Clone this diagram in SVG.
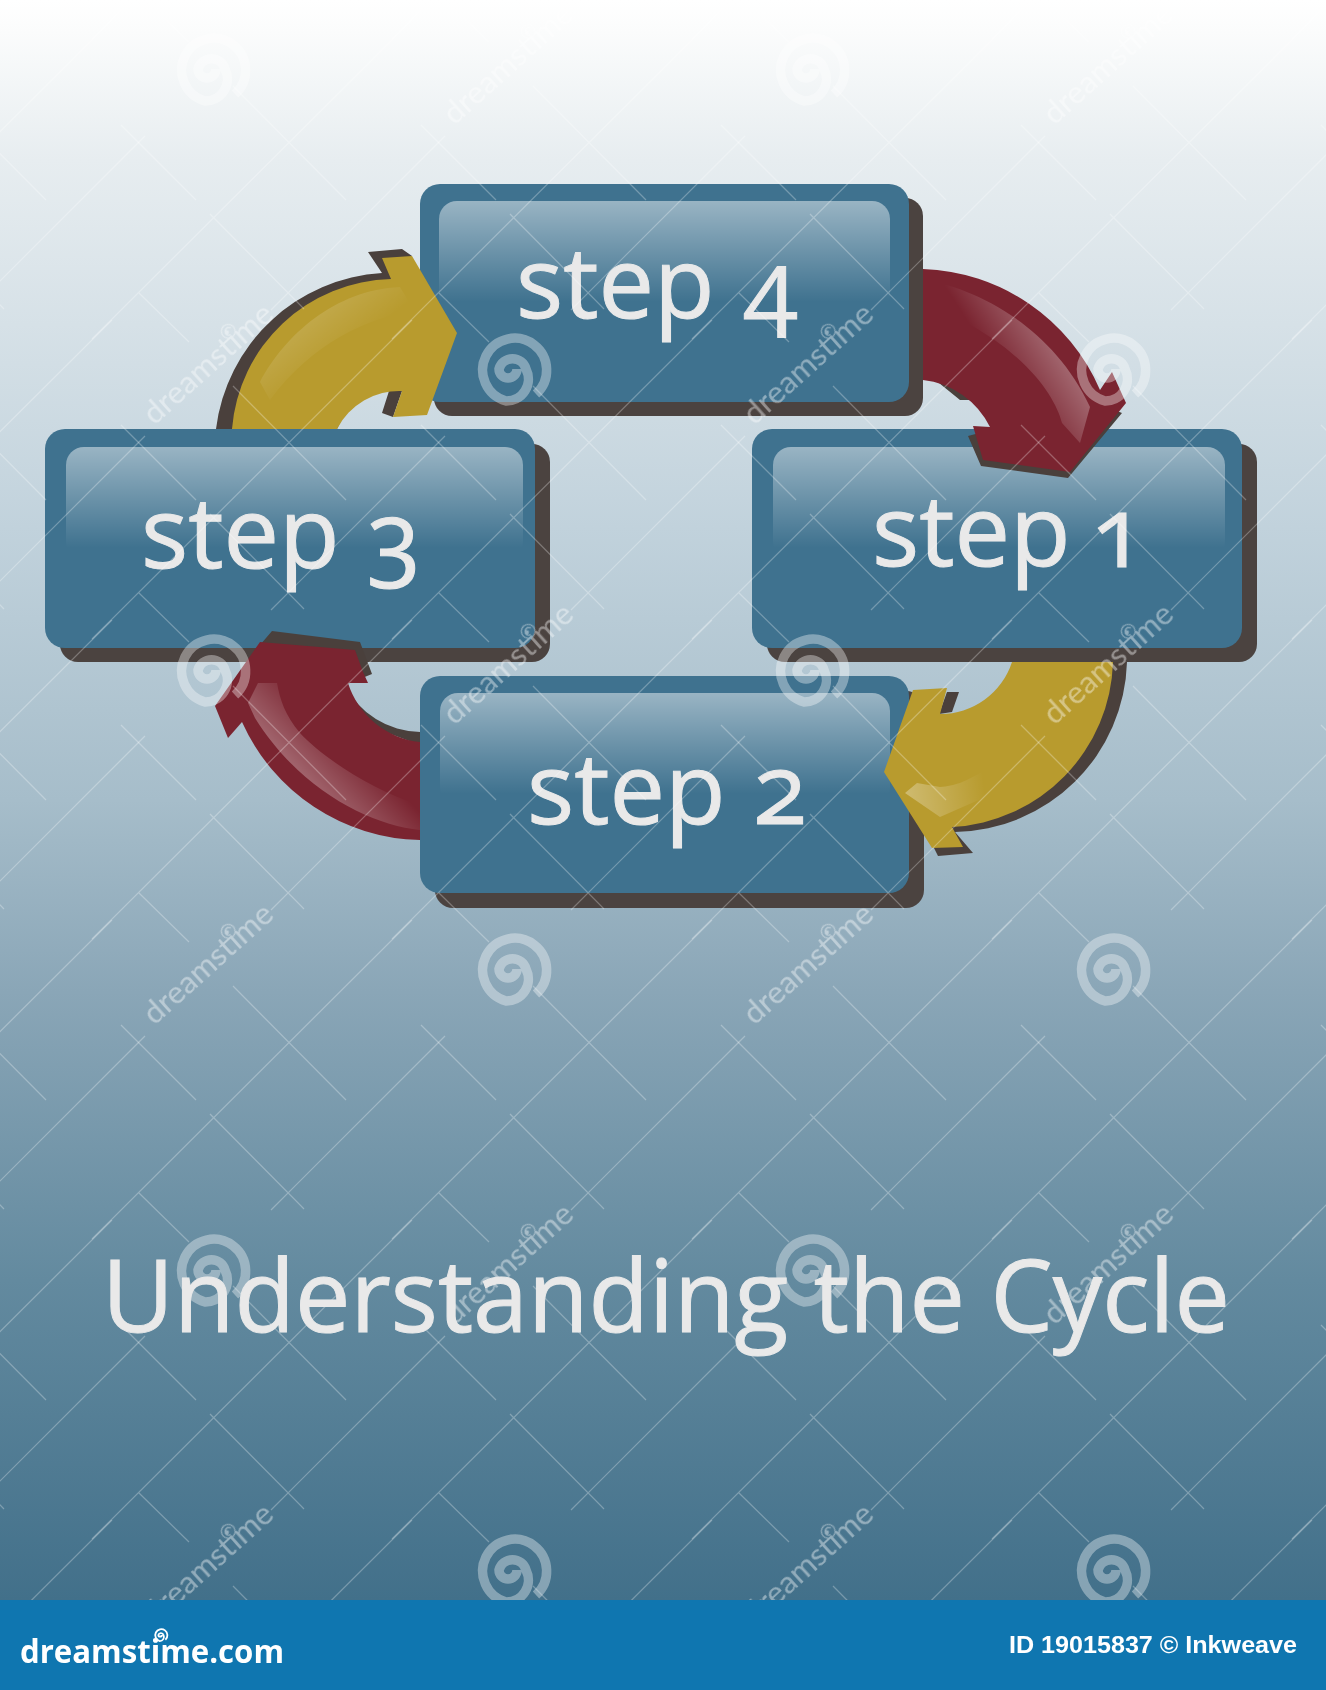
<svg xmlns="http://www.w3.org/2000/svg" width="1326" height="1690" viewBox="0 0 1326 1690">
<style>
.shadow{fill:#4b4340}
.box{fill:#3f728f}
.gloss{fill:url(#gl)}
.lbl{font-family:"Open Sans","Noto Sans",sans-serif;font-size:99px;fill:#e9e9e9;stroke:#e9e9e9;stroke-width:1;font-variant-numeric:oldstyle-nums}
.title{font-family:"Open Sans","Noto Sans",sans-serif;font-size:100px;fill:#e9e9e9;stroke:#e9e9e9;stroke-width:1}
.red{fill:#7a2430}
.gold{fill:#b89b2e}
.dark{fill:#4a403c}
.wm{font-family:"Lato","Open Sans",sans-serif;font-size:30px;fill:#fff}
.wc{font-family:"Open Sans",sans-serif;font-size:20px;fill:#fff}
.sw{fill:none;stroke:#fff;stroke-width:9.5}
</style>
<defs>
<linearGradient id="bg" x1="0" y1="0" x2="0" y2="1600" gradientUnits="userSpaceOnUse">
<stop offset="0" stop-color="#ffffff"/><stop offset="0.02" stop-color="#fbfcfc"/><stop offset="0.1" stop-color="#e7edf0"/><stop offset="0.33" stop-color="#c1d2dc"/><stop offset="0.5" stop-color="#a6bdca"/><stop offset="0.62" stop-color="#8aa6b7"/><stop offset="0.8" stop-color="#638a9f"/><stop offset="1" stop-color="#42708a"/>
</linearGradient>
<linearGradient id="gl" x1="0" y1="0" x2="0" y2="1">
<stop offset="0" stop-color="#fff" stop-opacity="0.47"/><stop offset="0.9" stop-color="#fff" stop-opacity="0"/>
</linearGradient>
<linearGradient id="hTR" gradientUnits="userSpaceOnUse" x1="1075" y1="335" x2="1005" y2="380"><stop offset="0" stop-color="#fff" stop-opacity="0.42"/><stop offset="1" stop-color="#fff" stop-opacity="0"/></linearGradient>
<linearGradient id="hBL" gradientUnits="userSpaceOnUse" x1="265" y1="775" x2="330" y2="715"><stop offset="0" stop-color="#fff" stop-opacity="0.42"/><stop offset="1" stop-color="#fff" stop-opacity="0"/></linearGradient>
<linearGradient id="hTL" gradientUnits="userSpaceOnUse" x1="300" y1="315" x2="335" y2="360"><stop offset="0" stop-color="#fff" stop-opacity="0.16"/><stop offset="1" stop-color="#fff" stop-opacity="0"/></linearGradient>
<linearGradient id="hBR" gradientUnits="userSpaceOnUse" x1="905" y1="800" x2="985" y2="790"><stop offset="0" stop-color="#fff" stop-opacity="0.32"/><stop offset="1" stop-color="#fff" stop-opacity="0"/></linearGradient>
<path id="x" fill="none" stroke="#fff" stroke-opacity="0.28" stroke-width="1.2" d="M92,319L412,0M271,290L445,116M121,105L196,180M210,194L304,289M233,66L346,180M139,273L189,322"/>
<pattern id="lines" patternUnits="userSpaceOnUse" x="0" y="20" width="300" height="300">
<use href="#x"/><use href="#x" x="-300"/><use href="#x" y="-300"/><use href="#x" x="-300" y="-300"/>
</pattern>
<path id="swirl" class="sw" d="M23,25A32,32 0 1 0 -7,32A22,22 0 0 0 13,0A14,14 0 0 0 -14,0A9,9 0 0 0 4,0"/>
<g id="mark" transform="rotate(-42)">
<text class="wm" x="6" y="0" textLength="163" lengthAdjust="spacingAndGlyphs">dreamstime</text>
<text class="wc" x="124" y="-14" transform="rotate(42 124 -21)" text-anchor="middle">©</text>
</g>
</defs>

<rect id="background" width="1326" height="1690" fill="url(#bg)"/>

<g id="step4"><rect class="shadow" x="434" y="198" width="489" height="218" rx="18"/><rect class="box" x="420" y="184" width="489" height="218" rx="20"/><rect class="gloss" x="439" y="201" width="451" height="112" rx="18"/><text class="lbl" x="516" y="318">step<tspan x="744" dy="3">4</tspan></text></g>
<g id="step3"><rect class="shadow" x="60" y="444" width="490" height="218" rx="18"/><rect class="box" x="45" y="429" width="490" height="219" rx="20"/><rect class="gloss" x="66" y="447" width="457" height="112" rx="18"/><text class="lbl" x="141" y="568">step<tspan x="367" dy="4">3</tspan></text></g>
<g id="step1"><rect class="shadow" x="767" y="444" width="490" height="218" rx="18"/><rect class="box" x="752" y="429" width="490" height="219" rx="20"/><rect class="gloss" x="773" y="447" width="452" height="112" rx="18"/><text class="lbl" x="872" y="566">step<tspan x="1091" dy="1">1</tspan></text></g>
<g id="step2"><rect class="shadow" x="435" y="691" width="489" height="217" rx="18"/><rect class="box" x="420" y="676" width="489" height="217" rx="20"/><rect class="gloss" x="440" y="693" width="450" height="112" rx="18"/><text class="lbl" x="527" y="824">step<tspan x="753">2</tspan></text></g>

<g id="connectors">
<g id="arrow-4-1">
<path class="dark" d="M923,370A85,85 0 0 1 998,428L968,436L981,466L1068,478L1122,413L1090,400L960,400Z"/>
<path class="red" d="M923,269A200,200 0 0 1 1100,390L1112,372L1126,403L1070,472L983,460L973,426L990,427A85,85 0 0 0 923,380Z"/>
<path fill="url(#hTR)" d="M923,280C965,285 1050,320 1090,407L1080,443L1062,423C1055,395 1020,340 923,303Z"/>
</g>
<g id="arrow-1-2">
<path class="dark" d="M1127,662A175,175 0 0 1 955,832L973,853L938,856L925,830L1000,780L1100,662Z"/>
<path class="dark" d="M947,692L959,692L952,712L939,714Z"/>
<path class="gold" d="M1113,662A170,170 0 0 1 952,827L963,847L932,848L884,772L913,690L947,688L940,714A75,75 0 0 0 1012,662Z"/>
<path fill="url(#hBR)" d="M905,793L917,783L940,787C955,786 965,782 985,770L990,795L940,817Z"/>
</g>
<g id="arrow-2-3">
<path class="dark" d="M420,732A85,85 0 0 1 345,685L372,674L360,642L272,631L260,645L300,700L420,745Z"/>
<path class="red" d="M420,840A200,200 0 0 1 242,722L228,738L215,706L260,642L355,650L363,672L368,683L348,683A85,85 0 0 0 420,742Z"/>
<path fill="url(#hBL)" d="M420,830C370,825 300,790 255,718L248,703L258,683L277,683C280,700 285,715 300,733C320,755 370,790 420,805Z"/>
</g>
<g id="arrow-3-4">
<path class="dark" d="M216,429A178,178 0 0 1 382,273L368,252L402,249L412,256L400,340L389,391L382,413L393,417L402,391L360,380L337,429Z"/>
<path class="gold" d="M232,429A163,163 0 0 1 391,279L382,258L412,256L457,333L427,415L393,417L402,391A70,70 0 0 0 337,429Z"/>
<path fill="url(#hTL)" d="M260,382C285,335 335,290 400,287L415,312C370,315 310,345 270,400Z"/>
</g>
</g>

<g id="watermark">
<rect width="1326" height="1600" fill="url(#lines)"/>
<g opacity="0.36">
<use href="#swirl" x="212" y="69"/><use href="#swirl" x="811" y="69"/>
<use href="#swirl" x="513" y="369"/><use href="#swirl" x="1112" y="369"/>
<use href="#swirl" x="212" y="670"/><use href="#swirl" x="811" y="670"/>
<use href="#swirl" x="513" y="969"/><use href="#swirl" x="1112" y="969"/>
<use href="#swirl" x="212" y="1270"/><use href="#swirl" x="811" y="1270"/>
<use href="#swirl" x="513" y="1570"/><use href="#swirl" x="1112" y="1570"/>
</g>
<g opacity="0.42">
<use href="#mark" transform="translate(450 130)"/><use href="#mark" transform="translate(1050 130)"/>
<use href="#mark" transform="translate(150 430)"/><use href="#mark" transform="translate(750 430)"/>
<use href="#mark" transform="translate(450 730)"/><use href="#mark" transform="translate(1050 730)"/>
<use href="#mark" transform="translate(150 1030)"/><use href="#mark" transform="translate(750 1030)"/>
<use href="#mark" transform="translate(450 1330)"/><use href="#mark" transform="translate(1050 1330)"/>
<use href="#mark" transform="translate(150 1630)"/><use href="#mark" transform="translate(750 1630)"/>
</g>
</g>

<text id="title" class="title" x="102" y="1332" textLength="1128" lengthAdjust="spacingAndGlyphs">Understanding the Cycle</text>

<g id="footer">
<rect y="1600" width="1326" height="90" fill="#0f76b0"/>
<text x="20" y="1663" font-family="Open Sans,sans-serif" font-size="33" font-weight="700" fill="#fff" textLength="264" lengthAdjust="spacingAndGlyphs">dreamstime.com</text>
<use href="#swirl" transform="translate(161 1635) scale(0.19)"/>
<text x="1009" y="1653" font-family="Liberation Sans,sans-serif" font-size="24" font-weight="700" fill="#fff" textLength="288" lengthAdjust="spacingAndGlyphs">ID 19015837 © Inkweave</text>
</g>
</svg>
